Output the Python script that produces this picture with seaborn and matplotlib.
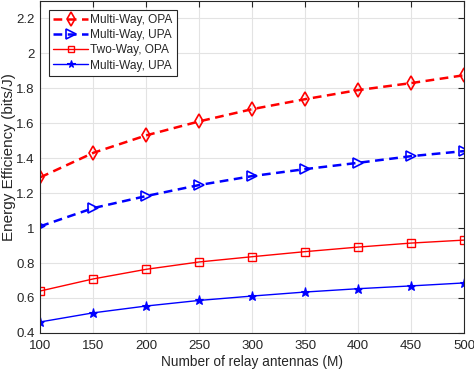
import matplotlib
matplotlib.use("Agg")
import matplotlib.pyplot as plt
import seaborn as sns
import pandas as pd

# data
antennas = [100, 150, 200, 250, 300, 350, 400, 450, 500]
mw_opa = [1.29, 1.43, 1.53, 1.61, 1.68, 1.737, 1.789, 1.829, 1.874]
mw_upa_dash = [1.01, 1.114, 1.183, 1.246, 1.297, 1.337, 1.373, 1.411, 1.44]
tw_opa = [0.64, 0.709, 0.764, 0.806, 0.836, 0.865, 0.891, 0.914, 0.931]
mw_upa = [0.463, 0.515, 0.554, 0.586, 0.611, 0.634, 0.653, 0.669, 0.686]

labels = ["Multi-Way, OPA", "Multi-Way, UPA", "Two-Way, OPA", "Multi-Way, UPA "]
series = [mw_opa, mw_upa_dash, tw_opa, mw_upa]

rows = []
for lab, vals in zip(labels, series):
    for m, v in zip(antennas, vals):
        rows.append({"M": m, "EE": v, "curve": lab})
df = pd.DataFrame(rows)

sns.set_style("whitegrid")
plt.rcParams['font.family'] = ['Liberation Sans', 'DejaVu Sans']

fig = plt.figure(figsize=(4.74, 3.72), dpi=100)
ax = fig.add_axes([0.085, 0.105, 0.894, 0.893])

styles = {
    "Multi-Way, OPA": dict(color="#ff0000", ls=(0, (3.5, 2.2)), marker="d", mfc="none", ms=7.5, lw=1.8, mew=1.2),
    "Multi-Way, UPA": dict(color="#0000ff", ls=(0, (3.5, 2.2)), marker=">", mfc="none", ms=7, lw=1.8, mew=1.2),
    "Two-Way, OPA": dict(color="#ff0000", ls="-", marker="s", mfc="none", ms=5.5, lw=1.0, mew=1.0),
    "Multi-Way, UPA ": dict(color="#0000ff", ls="-", marker="*", mfc="#0000ff", ms=6.5, lw=1.0, mew=0.8),
}

for lab in labels:
    sub = df[df["curve"] == lab]
    st = styles[lab]
    sns.lineplot(data=sub, x="M", y="EE", ax=ax, color=st["color"], linestyle=st["ls"],
                 marker=st["marker"], markerfacecolor=st["mfc"], markeredgecolor=st["color"],
                 markersize=st["ms"], linewidth=st["lw"], markeredgewidth=st["mew"],
                 label=lab.strip())

ax.set_xlim(100, 500)
ax.set_ylim(0.4, 2.3)
ax.set_xticks(antennas)
ax.set_yticks([0.4, 0.6, 0.8, 1.0, 1.2, 1.4, 1.6, 1.8, 2.0, 2.2])
ax.set_yticklabels(["0.4", "0.6", "0.8", "1", "1.2", "1.4", "1.6", "1.8", "2", "2.2"])
ax.tick_params(direction="in", length=4, labelsize=9.5, top=True, right=True, colors="#262626", pad=4)
ax.tick_params(axis="x", pad=5)
ax.grid(True, color="#e3e3e3", linewidth=0.8)
for sp in ax.spines.values():
    sp.set_color("#262626")
    sp.set_linewidth(0.8)

ax.set_xlabel("Number of relay antennas (M)", fontsize=9.8, labelpad=2)
ax.set_ylabel("Energy Efficiency (bits/J)", fontsize=11.0)
ax.yaxis.set_label_coords(-0.058, 0.53)

leg = ax.legend(loc="upper left", bbox_to_anchor=(0.021, 0.973), fontsize=8.6, frameon=True,
                fancybox=False, edgecolor="#262626", framealpha=1, handlelength=2.9,
                handletextpad=0.2, borderpad=0.35, labelspacing=0.27, borderaxespad=0)
leg.get_frame().set_linewidth(0.8)
for h in leg.legend_handles[2:]:
    h.set_markersize(h.get_markersize() * 0.85)

fig.savefig("out.png", dpi=100)
